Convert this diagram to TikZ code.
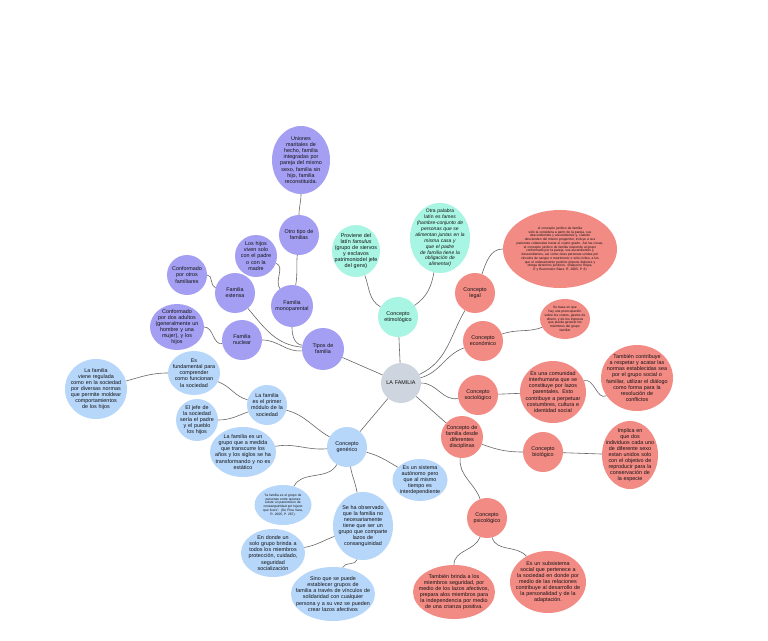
\documentclass[tikz,border=0pt]{standalone}
\usepackage{fontspec}
\setmainfont{Liberation Sans}
\usetikzlibrary{shapes.geometric}
\definecolor{cpur}{HTML}{A49FF2}
\definecolor{cteal}{HTML}{A9F5E3}
\definecolor{cred}{HTML}{F38B85}
\definecolor{cblue}{HTML}{B6D6FA}
\definecolor{cgray}{HTML}{CED5DE}
\definecolor{cedge}{HTML}{666666}
\definecolor{ctext}{HTML}{111111}
\tikzset{
  bub/.style={ellipse, inner sep=0pt, draw=none},
  pur/.style={bub, fill=cpur},
  teal/.style={bub, fill=cteal},
  red/.style={bub, fill=cred},
  blue/.style={bub, fill=cblue},
  grey/.style={bub, fill=cgray},
  txt/.style={align=center, inner sep=0pt, text=ctext, font=\fontsize{5.4}{6.1}\selectfont},
  tiny/.style={txt, font=\fontsize{3.3}{3.75}\selectfont},
  edge/.style={draw=cedge, line width=0.6pt},
}
% #1 name, #2 style, #3 position, #4 width, #5 height, #6 text width, #7 text
\newcommand\bub[7]{%
  \node[#2, minimum width=#4, minimum height=#5] (#1) at #3 {};
  \node[txt, text width=#6] at (#1) {#7};}
\newcommand\bubt[7]{%
  \node[#2, minimum width=#4, minimum height=#5] (#1) at #3 {};
  \node[tiny, text width=#6] at (#1) {#7};}
\begin{document}
\begin{tikzpicture}[x=1pt, y=-1pt]
\fill[white] (0,0) rectangle (768,640);
\useasboundingbox (0,0) rectangle (768,640);

% centre
\bub{fam}{grey}{(401,383)}{40pt}{40pt}{38pt}{LA FAMILIA}

% purple
\bub{tipos}{pur}{(323,349)}{42pt}{42pt}{36pt}{Tipos de\\familia}
\bub{mono}{pur}{(292,306)}{42pt}{42pt}{40pt}{Familia\\monoparental}
\bub{otro}{pur}{(299,235)}{40pt}{40pt}{36pt}{Otro tipo de\\familias}
\bub{union}{pur}{(301,160)}{58pt}{68pt}{50pt}{Uniones\\maritales de\\hecho, familia\\integradas por\\pareja del mismo\\sexo, familia sin\\hijo, familia\\reconstituida.}
\bub{hijos}{pur}{(256,256)}{42pt}{42pt}{38pt}{Los hijos\\viven solo\\con el padre\\o con la\\madre}
\bub{ext}{pur}{(235,293)}{40pt}{40pt}{36pt}{Familia\\extensa}
\bub{confo}{pur}{(187,275)}{40pt}{40pt}{38pt}{Conformado\\por otros\\familiares}
\bub{nuc}{pur}{(242,340)}{40pt}{40pt}{36pt}{Familia\\nuclear}
\bub{confd}{pur}{(177,327)}{54pt}{46pt}{52pt}{Conformado\\por dos adultos\\(generalmente un\\hombre y una\\mujer), y los\\hijos}

% teal
\bub{etim}{teal}{(398,317)}{40pt}{40pt}{38pt}{Concepto\\etimológico}
\bub{prov}{teal}{(356,251)}{48pt}{52pt}{48pt}{Proviene del\\latín \textit{famulus}\\(grupo de siervos\\y esclavos\\patrimoniodel jefe\\del gens)}
\node[teal, minimum width=60pt, minimum height=70pt] (otra) at (440,238) {};
\node[txt, text width=60pt, font=\fontsize{5}{5.9}\selectfont] at (otra) {Otra palabra\\latín es \textit{fames}\\\textit{(hambre-conjunto de}\\\textit{personas que se}\\\textit{alimentan juntas en la}\\\textit{misma casa y que el padre}\\\textit{de familia tiene la}\\\textit{obligación de}\\\textit{alimentar)}};

% red
\bub{legal}{red}{(475,293)}{40pt}{40pt}{36pt}{Concepto\\legal}
\bubt{legt}{red}{(560,249)}{114pt}{78pt}{104pt}{el concepto jurídico de familia\\sólo la considera a partir de la pareja, sus\\descendientes y ascendientes y, cuando\\descienden del mismo progenitor, incluye a sus\\parientes colaterales hasta el cuarto grado. Así las cosas,\\el concepto jurídico de familia responde al grupo\\conformado por la pareja, sus ascendientes y\\descendientes, así como otras personas unidas por\\vínculos de sangre o matrimonio o sólo civiles, a los\\que el ordenamiento positivo impone deberes y\\otorga derechos jurídicos. (Baqueiro Rojas,\\E y Buenrostro Báez, R. 2005, P. 8)}
\bub{econ}{red}{(483,341)}{40pt}{40pt}{38pt}{Concepto\\económico}
\bubt{basa}{red}{(565,319)}{50pt}{40pt}{46pt}{Se basa en que\\hay una preocupación\\sobre los costos, gastos de\\dinero, y de los ingresos\\que pueda generar los\\miembros del grupo\\familiar}
\bub{soc}{red}{(478,395)}{40pt}{40pt}{38pt}{Concepto\\sociológico}
\bub{comu}{red}{(553,392)}{66pt}{62pt}{62pt}{Es una comunidad\\interhumana que se\\constituye por lazos\\parentales. Esto\\contribuye a perpetuar\\costumbres, cultura e\\identidad social}
\bub{resp}{red}{(637,378)}{72pt}{66pt}{70pt}{También contribuye\\a respetar y acatar las\\normas establecidas sea\\por el grupo social o\\familiar, utilizar el diálogo\\como forma para la\\resolución de\\conflictos}
\bub{disc}{red}{(462,437)}{42pt}{42pt}{40pt}{Concepto de\\familia desde\\diferentes\\disciplinas}
\bub{bio}{red}{(543,452)}{40pt}{40pt}{36pt}{Concepto\\biológico}
\bub{impl}{red}{(630,455)}{56pt}{68pt}{54pt}{Implica en\\que dos\\individuos cada uno\\de diferente sexo\\estan unidos solo\\con el objetivo de\\reproducir para la\\conservación de\\la especie}
\bub{psi}{red}{(487,518)}{40pt}{40pt}{38pt}{Concepto\\psicológico}
\bub{brin}{red}{(454,592)}{82pt}{54pt}{80pt}{También brinda a los\\miembros seguridad, por\\medio de los lazos afectivos,\\prepara alos miembros para\\la independencia por medio\\de una crianza positiva.}
\bub{subs}{red}{(548,582)}{76pt}{62pt}{74pt}{Es un subsistema\\social que pertenece a\\la sociedad en donde por\\medio de las relaciones\\contribuye al desarrollo de\\la personalidad y de la\\adaptación.}

% blue
\bub{gen}{blue}{(347,447)}{40pt}{40pt}{36pt}{Concepto\\genérico}
\bub{mod}{blue}{(267,405)}{40pt}{40pt}{38pt}{La familia\\es el primer\\módulo de la\\sociedad}
\bub{fund}{blue}{(194,373)}{52pt}{44pt}{50pt}{Es\\fundamental para\\comprender\\como funcionan\\la sociedad}
\bub{regu}{blue}{(96,389)}{62pt}{60pt}{60pt}{La familia\\viene regulada\\como en la sociedad\\por diversas normas\\que permite moldear\\comportamientos\\de los hijos}
\bub{jefe}{blue}{(197,420)}{42pt}{42pt}{40pt}{El jefe de\\la sociedad\\sería el padre\\y el pueblo\\los hijos}
\bub{grup}{blue}{(243,452)}{66pt}{50pt}{64pt}{La familia es un\\grupo que a medida\\que transcurre los\\años y los siglos se ha\\transformando y no es\\estático}
\bubt{cita}{blue}{(283,505)}{57pt}{40pt}{52pt}{"la familia es el grupo de\\personas entre quienes\\existe un parentesco de\\consanguinidad por lejano\\que fuere". (De Pina Vara,\\R. 2005, P. 287).}
\bub{sist}{blue}{(420,480)}{55pt}{42pt}{52pt}{Es un sistema\\autónomo pero\\que al mismo\\tiempo es\\interdependiente}
\bub{obse}{blue}{(363,526)}{60pt}{68pt}{58pt}{Se ha observado\\que la familia no\\necesariamente\\tiene que ser un\\grupo que comparte\\lazos de\\consanguinidad}
\bub{dond}{blue}{(273,553)}{64pt}{48pt}{62pt}{En donde un\\solo grupo brinda a\\todos los miembros\\protección, cuidado,\\seguridad\\socialización}
\bub{sino}{blue}{(333,594)}{84pt}{54pt}{82pt}{Sino que se puede\\establecer grupos de\\familia a través de vínculos de\\solidaridad con cualquier\\persona y a su vez se pueden\\crear lazos afectivos}

% connectors
\draw[edge] (fam) -- (tipos);
\draw[edge] (fam) -- (etim);
\draw[edge] (fam) to[out=25, in=-120] (legal);
\draw[edge] (fam) to[out=15, in=200] (econ);
\draw[edge] (fam) to[out=0, in=190] (soc);
\draw[edge] (fam) -- (disc);
\draw[edge] (fam) -- (gen);

\draw[edge] (tipos) to[out=170, in=-90] (mono);
\draw[edge] (tipos) to[out=175, in=-50] (ext);
\draw[edge] (tipos) to[out=185, in=0] (nuc);
\draw[edge] (mono) to[out=80, in=-95] (otro);
\draw[edge] (mono) to[out=125, in=-20] (hijos);
\draw[edge] (otro) to[out=90, in=-90] (union);
\draw[edge] (ext) to[out=165, in=0] (confo);
\draw[edge] (nuc) to[out=190, in=0] (confd);

\draw[edge] (etim) to[out=150, in=-70] (prov);
\draw[edge] (etim) to[out=35, in=-100] (otra);

\draw[edge] (legal) to[out=70, in=180] (legt);
\draw[edge] (econ) to[out=20, in=200] (basa);
\draw[edge] (soc) -- (comu);
\draw[edge] (comu) to[out=20, in=210] (resp);
\draw[edge] (disc) to[out=-20, in=180] (bio);
\draw[edge] (bio) -- (impl);
\draw[edge] (disc) to[out=-95, in=110] (psi);
\draw[edge] (psi) to[out=-110, in=90] (brin);
\draw[edge] (psi) to[out=-75, in=130] (subs);

\draw[edge] (gen) to[out=150, in=-15] (mod);
\draw[edge] (mod) to[out=165, in=-20] (fund);
\draw[edge] (fund) to[out=180, in=15] (regu);
\draw[edge] (mod) to[out=200, in=0] (jefe);
\draw[edge] (gen) to[out=185, in=10] (grup);
\draw[edge] (gen) to[out=-120, in=60] (cita);
\draw[edge] (gen) to[out=-15, in=150] (sist);
\draw[edge] (gen) to[out=-80, in=100] (obse);
\draw[edge] (obse) to[out=200, in=10] (dond);
\draw[edge] (obse) to[out=-100, in=70] (sino);
\end{tikzpicture}
\end{document}
